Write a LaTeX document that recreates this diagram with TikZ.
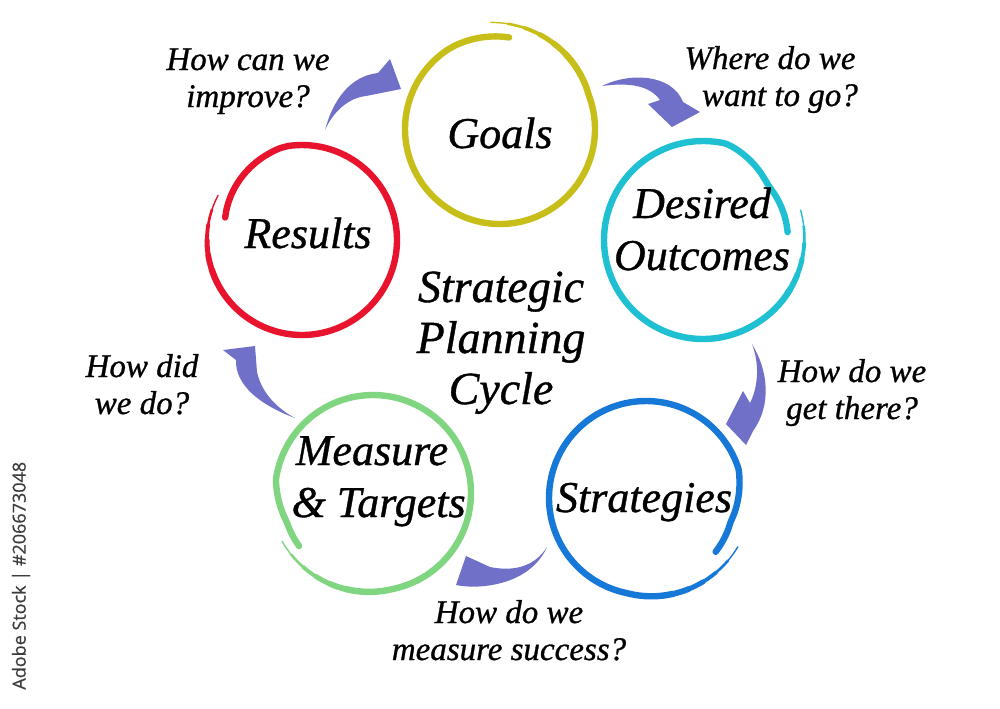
\documentclass[tikz,border=0pt]{standalone}
\usepackage{fontspec}
\setmainfont{Liberation Serif}[ItalicFeatures={FakeBold=0.8}]
\newfontfamily\wmfont{Open Sans}[FakeBold=0.6]
\definecolor{goalc}{RGB}{200,190,25}
\definecolor{desc}{RGB}{30,192,210}
\definecolor{stratc}{RGB}{22,120,215}
\definecolor{measc}{RGB}{128,214,128}
\definecolor{resc}{RGB}{232,20,45}
\definecolor{arrowc}{RGB}{112,112,200}
\definecolor{wmgray}{RGB}{60,60,60}
\tikzset{
  lbl/.style={font=\fontsize{22}{26}\selectfont\itshape, inner sep=0pt, align=center},
  qlbl/.style={font=\fontsize{16.5}{18.5}\selectfont\itshape, inner sep=0pt, align=center},
  ctr/.style={font=\fontsize{23}{25.5}\selectfont\itshape, inner sep=0pt, align=center},
  swoosh/.style={fill=arrowc, draw=none},
}
% #1 cx #2 cy #3 R #4 start angle #5 sweep #6 extra radius at start #7 reduction at end #8 end window #9 ramp fraction
\newcommand{\handcircle}[9]{%
  \foreach \ua/\ub/\lw in {0/0.025/0.7pt, 0.025/0.05/1.3pt, 0.05/0.075/1.9pt, 0.075/0.1/2.5pt, 0.1/0.125/2.9pt, 0.125/1.0/3.2pt}{%
    \draw[line width=\lw, line cap=round, line join=round]
      plot[domain=\ua:\ub, samples=60, smooth]
      ({#1 + (#3 + #6*max(0,1-\x/0.2) - #7*min(1,max(0,(\x-1+#8)/(#8*#9))))*cos(#4 + #5*\x)},
       {#2 - (#3 + #6*max(0,1-\x/0.2) - #7*min(1,max(0,(\x-1+#8)/(#8*#9))))*sin(#4 + #5*\x)});
  }}
\begin{document}
\begin{tikzpicture}[x=0.5pt,y=-0.5pt]
\useasboundingbox (0,0) rectangle (1000,708);
\fill[white] (0,0) rectangle (1000,708);

% circles
\begin{scope}[color=goalc]\handcircle{500}{129}{95}{95}{-371}{12}{3}{0.1}{1}\end{scope}
\begin{scope}[color=desc]\handcircle{703}{240}{99}{17}{-372}{3}{14}{0.19}{0.5}\end{scope}
\begin{scope}[color=stratc]\handcircle{646}{498}{97}{-28}{-370}{7}{9}{0.15}{0.6}\end{scope}
\begin{scope}[color=measc]\handcircle{373}{493}{98}{208}{368}{5}{7}{0.12}{0.6}\end{scope}
\begin{scope}[color=resc]\handcircle{302}{240}{95}{152}{372}{0}{15}{0.17}{1}\end{scope}

% labels in circles (base = baseline of the last line)
\node[lbl, anchor=base] (goals) at (500,148) {Goals};
\node[lbl, anchor=base] (desired) at (702,270) {Desired\\Outcomes};
\node[lbl, anchor=base] (strat) at (644,512) {Strategies};
\node[lbl, anchor=base] (measure) at (372,517) {Measure\\\hspace*{0.3em}\& Targets};
\node[lbl, anchor=base] (results) at (308,248) {Results};

% centre
\node[ctr, anchor=base] (cycle) at (501,404) {Strategic\\Planning\\Cycle};

% questions
\node[qlbl, anchor=base] (q1) at (248,107) {How can we\\improve?};
\node[qlbl, anchor=base] (q2) at (770,106) {Where do we\\\hspace*{0.6em}want to go?};
\node[qlbl, anchor=base] (q3) at (852,419) {How do we\\get there?};
\node[qlbl, anchor=base] (q4) at (142,414) {How did\\we do?};
\node[qlbl, anchor=base] (q5) at (509,660) {How do we\\measure success?};

% arrows
\fill[swoosh] (325,130) .. controls (333,100) and (350,76) .. (378,73) -- (390,59) -- (401,89) -- (366,96) .. controls (348,98) and (333,112) .. (325,130) -- cycle;
\fill[swoosh] (602,86) .. controls (630,72) and (672,74) .. (683,102) -- (700,112) -- (672,127) -- (648,104) -- (660,100) .. controls (650,86) and (630,82) .. (602,86) -- cycle;
\fill[swoosh] (752,344) .. controls (768,370) and (772,405) .. (753,431) -- (746,445) -- (726,424) -- (743,391) -- (750,403) .. controls (759,385) and (759,362) .. (752,344) -- cycle;
\fill[swoosh] (547,547) .. controls (535,566) and (515,572) .. (490,567) -- (466,556) -- (456,585) .. controls (480,590) and (530,585) .. (547,547) -- cycle;
\fill[swoosh] (295,418) .. controls (260,405) and (235,385) .. (236,360) -- (223,350) -- (255,346) -- (257,372) .. controls (262,395) and (280,410) .. (295,418) -- cycle;

% side text
\node[rotate=90, anchor=west, inner sep=0pt, font=\wmfont\fontsize{9}{11}\selectfont, text=wmgray] (wm) at (21,690) {Adobe Stock | \#206673048};
\end{tikzpicture}
\end{document}
